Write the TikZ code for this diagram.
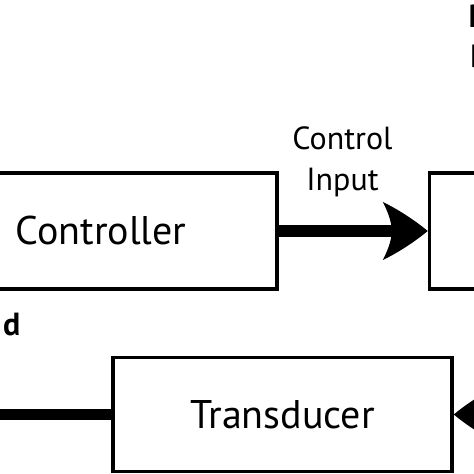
\documentclass[tikz,border=0pt]{standalone}
\usepackage{fontspec}
\setmainfont{PT Sans}
\usepackage{tikz}
\usetikzlibrary{positioning}

\pgfdeclarearrow{
	name = Barb,
	setup code = {
		\pgfarrowssettipend{0pt}
		\pgfarrowssetlineend{-24pt}
		\pgfarrowssetvisualbackend{-45pt}
		\pgfarrowssetbackend{-45pt}
		\pgfarrowshullpoint{0pt}{0pt}
		\pgfarrowshullpoint{-45pt}{29pt}
		\pgfarrowshullpoint{-45pt}{-29pt}
	},
	drawing code = {
		\pgfpathmoveto{\pgfqpoint{0pt}{0pt}}
		\pgfpathcurveto{\pgfqpoint{-12pt}{10pt}}{\pgfqpoint{-30pt}{22pt}}{\pgfqpoint{-45pt}{29pt}}
		\pgfpathcurveto{\pgfqpoint{-38pt}{16pt}}{\pgfqpoint{-36pt}{6pt}}{\pgfqpoint{-36pt}{0pt}}
		\pgfpathcurveto{\pgfqpoint{-36pt}{-6pt}}{\pgfqpoint{-38pt}{-16pt}}{\pgfqpoint{-45pt}{-29pt}}
		\pgfpathcurveto{\pgfqpoint{-30pt}{-22pt}}{\pgfqpoint{-12pt}{-10pt}}{\pgfqpoint{0pt}{0pt}}
		\pgfpathclose
		\pgfusepathqfill
	}
}

\begin{document}
\begin{tikzpicture}[x=1pt,y=1pt,
	block/.style={draw,line width=3.5pt,inner sep=0pt,font=\fontsize{40}{48}\selectfont},
	signal/.style={line width=11.5pt,-Barb},
	lbl/.style={inner sep=0pt,font=\fontsize{32}{41}\selectfont}]
	% frame
	\clip (0,0) rectangle (474,474);
	% blocks
	\node[block,minimum width=352pt,minimum height=116pt] (ctl) at (101,243) {Controller};
	\node[block,minimum width=200pt,minimum height=116pt,anchor=west] (plant) at (427.75,243) {};
	\node[block,minimum width=339pt,minimum height=114pt] (tr) at (282.5,59.5) {Transducer};
	% signals
	\coordinate (fbk) at (-20,59.5);
	\coordinate (meas) at (520,59.5);
	\draw[signal] (ctl.east) -- (plant.west);
	\draw[signal] (meas) -- (tr.east);
	\draw[signal,-] (tr.west) -- (fbk);
	% labels
	\node[lbl,align=center] (ci) at (342.5,312) {Control\\Input};
	\node[lbl,font=\fontsize{32}{41}\selectfont\bfseries,anchor=base east] (md) at (20.5,138) {d};
	\node[lbl,anchor=base west] (pt) at (468.5,446) {\bfseries P};
	\node[lbl,anchor=base west] (pd) at (469.5,406) {D};
\end{tikzpicture}
\end{document}
